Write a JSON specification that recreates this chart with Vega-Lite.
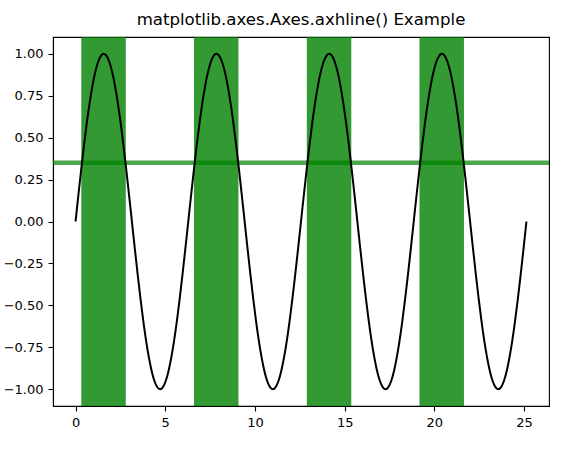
{
  "$schema": "https://vega.github.io/schema/vega-lite/v6.json",
  "autosize": "none",
  "width": 496,
  "height": 369,
  "padding": {"left": 53, "top": 37, "right": 26, "bottom": 43},
  "title": {
    "text": "matplotlib.axes.Axes.axhline() Example",
    "fontSize": 16.6,
    "fontWeight": "normal",
    "font": "DejaVu Sans",
    "color": "#000",
    "offset": 8
  },
  "datasets": {
    "spans": [
      {"start": 0.32, "end": 2.80},
      {"start": 6.60, "end": 9.08},
      {"start": 12.89, "end": 15.37},
      {"start": 19.17, "end": 21.65}
    ],
    "level": [
      {"value": 0.35}
    ],
    "wave": [
      {"x": 0, "y": 0}, {"x": 0.1571, "y": 0.1564}, {"x": 0.3142, "y": 0.309}, {"x": 0.4712, "y": 0.454}, {"x": 0.6283, "y": 0.5878},
      {"x": 0.7854, "y": 0.7071}, {"x": 0.9425, "y": 0.809}, {"x": 1.0996, "y": 0.891}, {"x": 1.2566, "y": 0.9511}, {"x": 1.4137, "y": 0.9877},
      {"x": 1.5708, "y": 1}, {"x": 1.7279, "y": 0.9877}, {"x": 1.885, "y": 0.9511}, {"x": 2.042, "y": 0.891}, {"x": 2.1991, "y": 0.809},
      {"x": 2.3562, "y": 0.7071}, {"x": 2.5133, "y": 0.5878}, {"x": 2.6704, "y": 0.454}, {"x": 2.8274, "y": 0.309}, {"x": 2.9845, "y": 0.1564},
      {"x": 3.1416, "y": 0}, {"x": 3.2987, "y": -0.1564}, {"x": 3.4558, "y": -0.309}, {"x": 3.6128, "y": -0.454}, {"x": 3.7699, "y": -0.5878},
      {"x": 3.927, "y": -0.7071}, {"x": 4.0841, "y": -0.809}, {"x": 4.2412, "y": -0.891}, {"x": 4.3982, "y": -0.9511}, {"x": 4.5553, "y": -0.9877},
      {"x": 4.7124, "y": -1}, {"x": 4.8695, "y": -0.9877}, {"x": 5.0265, "y": -0.9511}, {"x": 5.1836, "y": -0.891}, {"x": 5.3407, "y": -0.809},
      {"x": 5.4978, "y": -0.7071}, {"x": 5.6549, "y": -0.5878}, {"x": 5.8119, "y": -0.454}, {"x": 5.969, "y": -0.309}, {"x": 6.1261, "y": -0.1564},
      {"x": 6.2832, "y": 0}, {"x": 6.4403, "y": 0.1564}, {"x": 6.5973, "y": 0.309}, {"x": 6.7544, "y": 0.454}, {"x": 6.9115, "y": 0.5878},
      {"x": 7.0686, "y": 0.7071}, {"x": 7.2257, "y": 0.809}, {"x": 7.3827, "y": 0.891}, {"x": 7.5398, "y": 0.9511}, {"x": 7.6969, "y": 0.9877},
      {"x": 7.854, "y": 1}, {"x": 8.0111, "y": 0.9877}, {"x": 8.1681, "y": 0.9511}, {"x": 8.3252, "y": 0.891}, {"x": 8.4823, "y": 0.809},
      {"x": 8.6394, "y": 0.7071}, {"x": 8.7965, "y": 0.5878}, {"x": 8.9535, "y": 0.454}, {"x": 9.1106, "y": 0.309}, {"x": 9.2677, "y": 0.1564},
      {"x": 9.4248, "y": 0}, {"x": 9.5819, "y": -0.1564}, {"x": 9.7389, "y": -0.309}, {"x": 9.896, "y": -0.454}, {"x": 10.0531, "y": -0.5878},
      {"x": 10.2102, "y": -0.7071}, {"x": 10.3673, "y": -0.809}, {"x": 10.5243, "y": -0.891}, {"x": 10.6814, "y": -0.9511}, {"x": 10.8385, "y": -0.9877},
      {"x": 10.9956, "y": -1}, {"x": 11.1527, "y": -0.9877}, {"x": 11.3097, "y": -0.9511}, {"x": 11.4668, "y": -0.891}, {"x": 11.6239, "y": -0.809},
      {"x": 11.781, "y": -0.7071}, {"x": 11.9381, "y": -0.5878}, {"x": 12.0951, "y": -0.454}, {"x": 12.2522, "y": -0.309}, {"x": 12.4093, "y": -0.1564},
      {"x": 12.5664, "y": 0}, {"x": 12.7235, "y": 0.1564}, {"x": 12.8805, "y": 0.309}, {"x": 13.0376, "y": 0.454}, {"x": 13.1947, "y": 0.5878},
      {"x": 13.3518, "y": 0.7071}, {"x": 13.5088, "y": 0.809}, {"x": 13.6659, "y": 0.891}, {"x": 13.823, "y": 0.9511}, {"x": 13.9801, "y": 0.9877},
      {"x": 14.1372, "y": 1}, {"x": 14.2942, "y": 0.9877}, {"x": 14.4513, "y": 0.9511}, {"x": 14.6084, "y": 0.891}, {"x": 14.7655, "y": 0.809},
      {"x": 14.9226, "y": 0.7071}, {"x": 15.0796, "y": 0.5878}, {"x": 15.2367, "y": 0.454}, {"x": 15.3938, "y": 0.309}, {"x": 15.5509, "y": 0.1564},
      {"x": 15.708, "y": 0}, {"x": 15.865, "y": -0.1564}, {"x": 16.0221, "y": -0.309}, {"x": 16.1792, "y": -0.454}, {"x": 16.3363, "y": -0.5878},
      {"x": 16.4934, "y": -0.7071}, {"x": 16.6504, "y": -0.809}, {"x": 16.8075, "y": -0.891}, {"x": 16.9646, "y": -0.9511}, {"x": 17.1217, "y": -0.9877},
      {"x": 17.2788, "y": -1}, {"x": 17.4358, "y": -0.9877}, {"x": 17.5929, "y": -0.9511}, {"x": 17.75, "y": -0.891}, {"x": 17.9071, "y": -0.809},
      {"x": 18.0642, "y": -0.7071}, {"x": 18.2212, "y": -0.5878}, {"x": 18.3783, "y": -0.454}, {"x": 18.5354, "y": -0.309}, {"x": 18.6925, "y": -0.1564},
      {"x": 18.8496, "y": 0}, {"x": 19.0066, "y": 0.1564}, {"x": 19.1637, "y": 0.309}, {"x": 19.3208, "y": 0.454}, {"x": 19.4779, "y": 0.5878},
      {"x": 19.635, "y": 0.7071}, {"x": 19.792, "y": 0.809}, {"x": 19.9491, "y": 0.891}, {"x": 20.1062, "y": 0.9511}, {"x": 20.2633, "y": 0.9877},
      {"x": 20.4204, "y": 1}, {"x": 20.5774, "y": 0.9877}, {"x": 20.7345, "y": 0.9511}, {"x": 20.8916, "y": 0.891}, {"x": 21.0487, "y": 0.809},
      {"x": 21.2058, "y": 0.7071}, {"x": 21.3628, "y": 0.5878}, {"x": 21.5199, "y": 0.454}, {"x": 21.677, "y": 0.309}, {"x": 21.8341, "y": 0.1564},
      {"x": 21.9911, "y": 0}, {"x": 22.1482, "y": -0.1564}, {"x": 22.3053, "y": -0.309}, {"x": 22.4624, "y": -0.454}, {"x": 22.6195, "y": -0.5878},
      {"x": 22.7765, "y": -0.7071}, {"x": 22.9336, "y": -0.809}, {"x": 23.0907, "y": -0.891}, {"x": 23.2478, "y": -0.9511}, {"x": 23.4049, "y": -0.9877},
      {"x": 23.5619, "y": -1}, {"x": 23.719, "y": -0.9877}, {"x": 23.8761, "y": -0.9511}, {"x": 24.0332, "y": -0.891}, {"x": 24.1903, "y": -0.809},
      {"x": 24.3473, "y": -0.7071}, {"x": 24.5044, "y": -0.5878}, {"x": 24.6615, "y": -0.454}, {"x": 24.8186, "y": -0.309}, {"x": 24.9757, "y": -0.1564},
      {"x": 25.1327, "y": 0}
    ]
  },
  "layer": [
    {
      "data": {"name": "spans"},
      "mark": {"type": "rect", "color": "#008000", "opacity": 0.8},
      "encoding": {
        "x": {
          "field": "start",
          "type": "quantitative",
          "scale": {"domain": [-1.2566, 26.3894], "nice": false, "zero": false},
          "axis": {"values": [0, 5, 10, 15, 20, 25], "title": null}
        },
        "x2": {"field": "end"}
      }
    },
    {
      "data": {"name": "level"},
      "mark": {"type": "rule", "color": "#008000", "opacity": 0.7, "strokeWidth": 4.5},
      "encoding": {
        "y": {"field": "value", "type": "quantitative"}
      }
    },
    {
      "data": {"name": "wave"},
      "mark": {"type": "line", "color": "#000", "strokeWidth": 2, "interpolate": "monotone"},
      "encoding": {
        "x": {"field": "x", "type": "quantitative"},
        "y": {
          "field": "y",
          "type": "quantitative",
          "scale": {"domain": [-1.1, 1.1], "nice": false, "zero": false},
          "axis": {"values": [-1, -0.75, -0.5, -0.25, 0, 0.25, 0.5, 0.75, 1], "format": ".2f", "title": null}
        }
      }
    }
  ],
  "config": {
    "font": "DejaVu Sans",
    "view": {"stroke": "#000", "strokeWidth": 1.1},
    "axis": {
      "grid": false,
      "domainColor": "#000",
      "domainWidth": 1.1,
      "tickColor": "#000",
      "tickWidth": 1.1,
      "tickSize": 5,
      "labelColor": "#000",
      "labelFontSize": 13,
      "labelFont": "DejaVu Sans",
      "labelPadding": 5
    }
  }
}
